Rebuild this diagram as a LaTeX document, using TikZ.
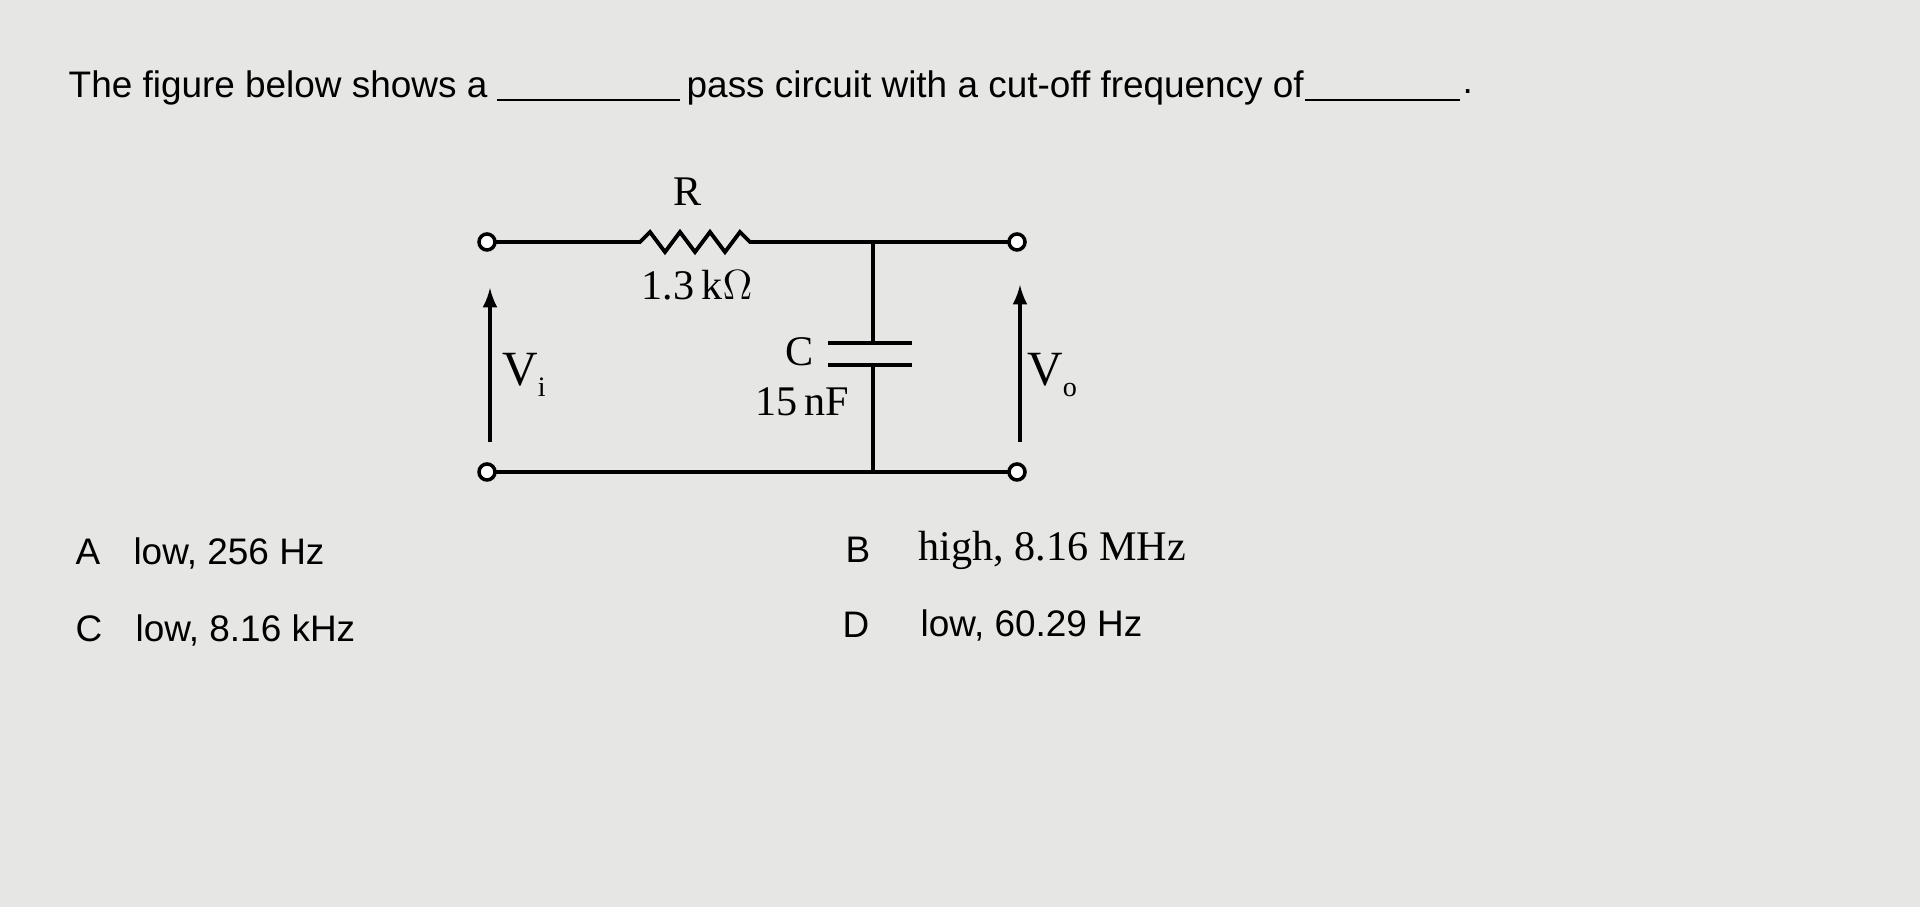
\documentclass[tikz,border=0pt]{standalone}
\usepackage{fontspec}
\setmainfont{Liberation Sans}
\newfontfamily\timesfont{Liberation Serif}
\definecolor{screen}{HTML}{E6E6E4}
\begin{document}
\begin{tikzpicture}[x=0.01cm,y=-0.01cm,
  txt/.style={anchor=west,inner sep=0pt,font=\fontsize{10.5}{13}\selectfont},
  ckt/.style={inner sep=0pt,font=\timesfont\fontsize{12}{14}\selectfont},
  wire/.style={line width=1.1pt},
  term/.style={circle,draw,line width=1pt,fill=white,minimum size=0.16cm,inner sep=0pt}]
\fill[screen] (0,0) rectangle (1920,907);
\useasboundingbox (0,0) rectangle (1920,907);
% question
\node[txt] (q1) at (68,88) {The figure below shows a};
\draw[line width=0.6pt] (497,100) -- (680,100);
\node[txt] (q2) at (686,88) {pass circuit with a cut-off frequency of};
\draw[line width=0.6pt] (1305,100) -- (1460,100);
\node[txt] (q3) at (1462,92) {.};
% circuit
\coordinate (r1) at (640,242);
\coordinate (r2) at (760,242);
\coordinate (ctop) at (873,242);
\coordinate (cbot) at (873,472);
\draw[wire] (487,242) -- (r1)
  -- ++(10,-10) -- ++(15,20) -- ++(15,-20) -- ++(15,20) -- ++(15,-20)
  -- ++(15,20) -- ++(15,-20) -- ++(10,10) -- (r2) -- (1017,242);
\draw[wire] (487,472) -- (1017,472);
\draw[wire] (ctop) -- (873,343) (873,365) -- (cbot);
\draw[wire] (828,343) -- (912,343) (828,365) -- (912,365);
\node[term] (ti) at (487,242) {};
\node[term] (to) at (1017,242) {};
\node[term] (bi) at (487,472) {};
\node[term] (bo) at (1017,472) {};
\node[ckt] (rlab) at (688,192) {R};
\node[ckt] (rval) at (697,285) {1.3\,k$\Omega$};
\node[ckt] (clab) at (800,352) {C};
\node[ckt] (cval) at (802,402) {15\,nF};
\coordinate (vi1) at (490,442);
\coordinate (vi2) at (490,288);
\coordinate (vo1) at (1020,442);
\coordinate (vo2) at (1020,285);
\draw[line width=0.9pt,-latex] (vi1) -- (vi2);
\draw[line width=0.9pt,-latex] (vo1) -- (vo2);
\node[ckt] (vi) at (524,375) {\fontsize{14}{16}\selectfont V\raisebox{-0.5ex}{\fontsize{8}{9}\selectfont i}};
\node[ckt] (vo) at (1052,375) {\fontsize{14}{16}\selectfont V\raisebox{-0.5ex}{\fontsize{8}{9}\selectfont o}};
% answers
\node[txt] (a) at (75,553) {A\hspace{0.9em}low, 256 Hz};
\node[txt] (c) at (75,630) {C\hspace{0.9em}low, 8.16 kHz};
\node[txt] (b) at (845,550) {B};
\node[ckt,anchor=west] (bt) at (918,550) {high, 8.16 MHz};
\node[txt] (d) at (842,625) {D};
\node[txt] (dt) at (920,625) {low, 60.29 Hz};
\end{tikzpicture}
\end{document}
